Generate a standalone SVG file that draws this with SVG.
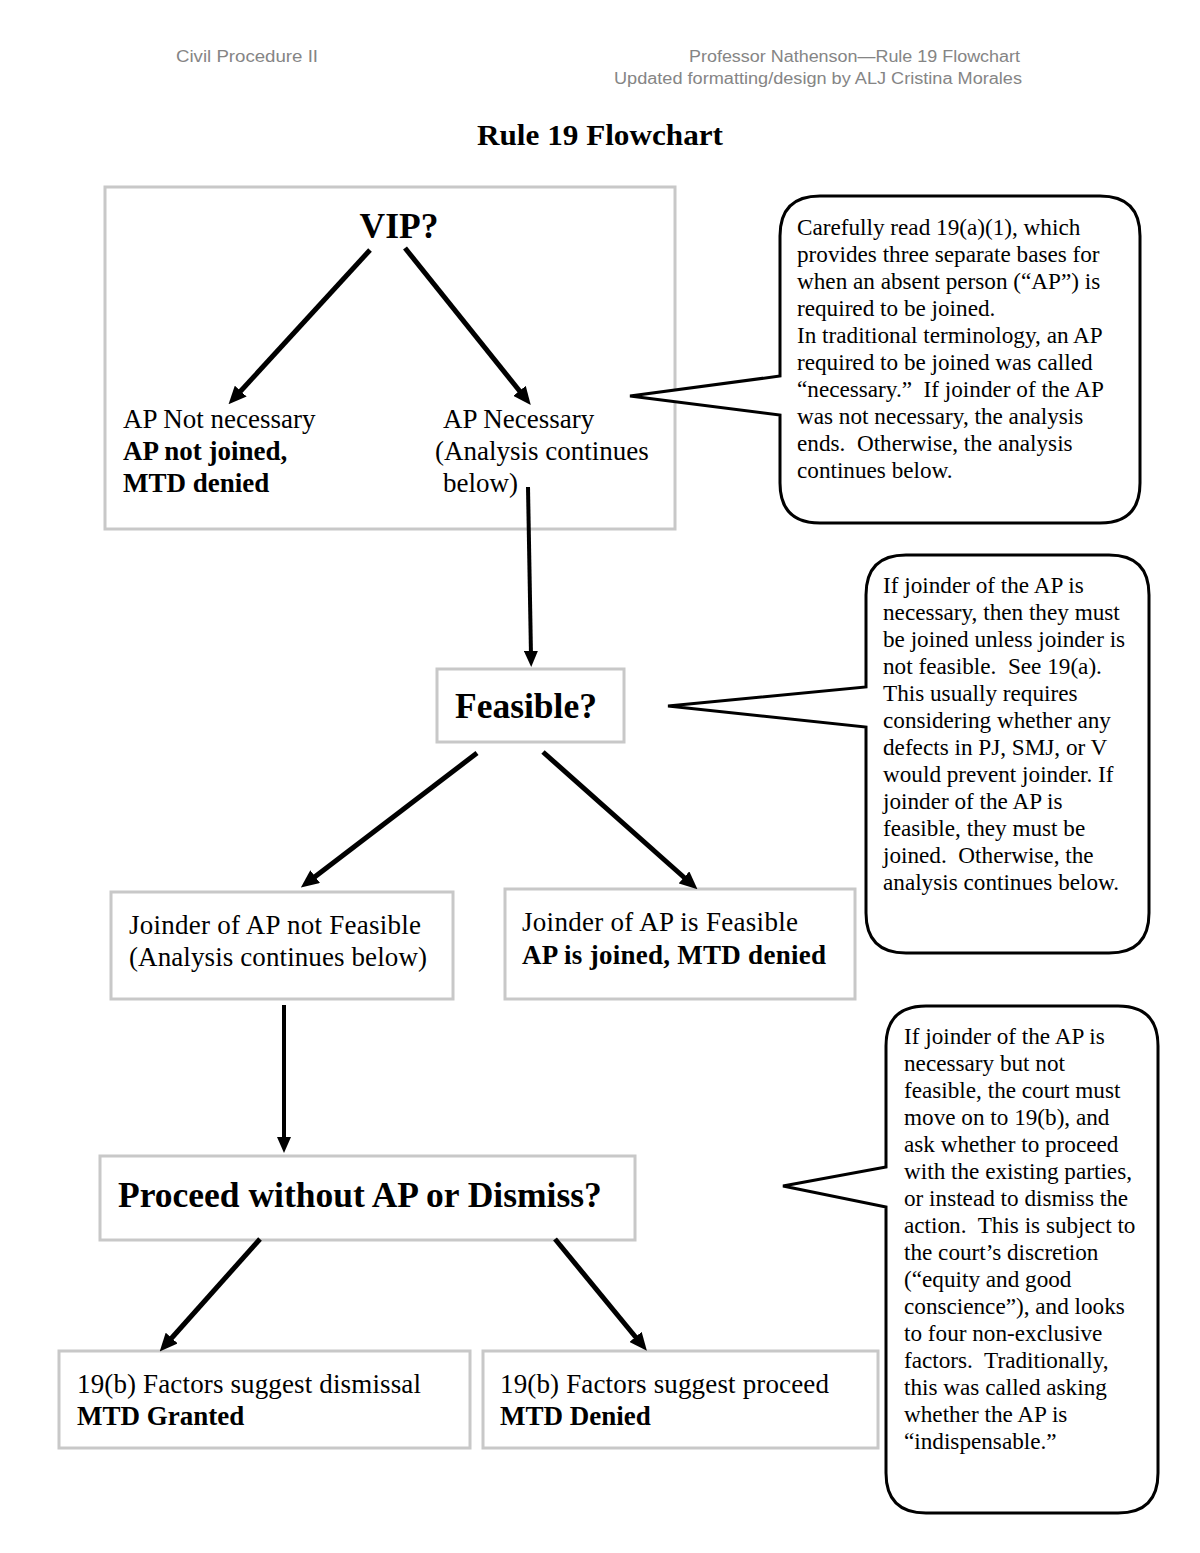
<svg xmlns="http://www.w3.org/2000/svg" width="1200" height="1553" viewBox="0 0 1200 1553">
<style>
text{white-space:pre}
.hdr{font-family:"Liberation Sans",Arial,sans-serif;font-size:16px;fill:#858585}
.title{font-family:"Liberation Serif","Times New Roman",serif;font-size:30px;font-weight:bold;fill:#000}
.q{font-family:"Liberation Serif","Times New Roman",serif;font-size:35.5px;font-weight:bold;fill:#000}
.t{font-family:"Liberation Serif","Times New Roman",serif;font-size:27px;fill:#000}
.b{font-weight:bold}
.c{font-family:"Liberation Serif","Times New Roman",serif;font-size:23.2px;fill:#000}
.box{fill:#fff;stroke:#c8c8c8;stroke-width:3}
.call{fill:#fff;stroke:#000;stroke-width:3;stroke-linejoin:miter}
.arr{stroke:#000;stroke-width:5;fill:none;marker-end:url(#ah)}
.arr2{stroke:#000;stroke-width:4;fill:none;marker-end:url(#ah2)}
</style>
<defs>
<marker id="ah" markerUnits="userSpaceOnUse" markerWidth="18" markerHeight="16" refX="4" refY="8" orient="auto">
<path d="M0,0 L18,8 L0,16 z" fill="#000"/>
</marker>
<marker id="ah2" markerUnits="userSpaceOnUse" markerWidth="16" markerHeight="14" refX="4" refY="7" orient="auto">
<path d="M0,0 L16,7 L0,14 z" fill="#000"/>
</marker>
</defs>
<rect width="1200" height="1553" fill="#fff"/>

<g id="header">
<text class="hdr" x="176" y="62" textLength="142" lengthAdjust="spacingAndGlyphs">Civil Procedure II</text>
<text class="hdr" x="689" y="62" textLength="331" lengthAdjust="spacingAndGlyphs">Professor Nathenson—Rule 19 Flowchart</text>
<text class="hdr" x="614" y="84" textLength="408" lengthAdjust="spacingAndGlyphs">Updated formatting/design by ALJ Cristina Morales</text>
<text class="title" x="600" y="145" text-anchor="middle" textLength="246" lengthAdjust="spacingAndGlyphs">Rule 19 Flowchart</text>
</g>

<g id="vip">
<rect class="box" x="105" y="187" width="570" height="342"/>
<text class="q" x="399" y="238" text-anchor="middle">VIP?</text>
<text class="t" x="123" y="428">AP Not necessary</text>
<text class="t b" x="123" y="460">AP not joined,</text>
<text class="t b" x="123" y="492">MTD denied</text>
<text class="t" x="443" y="428">AP Necessary</text>
<text class="t" x="435" y="460">(Analysis continues</text>
<text class="t" x="443" y="492">below)</text>
</g>

<g id="note1">
<path class="call" d="M820,196 H1100 Q1140,196 1140,236 V483 Q1140,523 1100,523 H820 Q780,523 780,483 V415 L630,396 L780,376 V236 Q780,196 820,196 Z"/>
<text class="c" x="797" y="235">Carefully read 19(a)(1), which</text>
<text class="c" x="797" y="262">provides three separate bases for</text>
<text class="c" x="797" y="289">when an absent person (“AP”) is</text>
<text class="c" x="797" y="316">required to be joined.</text>
<text class="c" x="797" y="343">In traditional terminology, an AP</text>
<text class="c" x="797" y="370">required to be joined was called</text>
<text class="c" x="797" y="397">“necessary.”  If joinder of the AP</text>
<text class="c" x="797" y="424">was not necessary, the analysis</text>
<text class="c" x="797" y="451">ends.  Otherwise, the analysis</text>
<text class="c" x="797" y="478">continues below.</text>
</g>

<g id="feasible">
<rect class="box" x="437" y="669" width="187" height="73"/>
<text class="q" x="526" y="718" text-anchor="middle">Feasible?</text>
</g>

<g id="note2">
<path class="call" d="M906,555 H1109 Q1149,555 1149,595 V913 Q1149,953 1109,953 H906 Q866,953 866,913 V727 L668,706 L866,687 V595 Q866,555 906,555 Z"/>
<text class="c" x="883" y="593">If joinder of the AP is</text>
<text class="c" x="883" y="620">necessary, then they must</text>
<text class="c" x="883" y="647">be joined unless joinder is</text>
<text class="c" x="883" y="674">not feasible.  See 19(a).</text>
<text class="c" x="883" y="701">This usually requires</text>
<text class="c" x="883" y="728">considering whether any</text>
<text class="c" x="883" y="755">defects in PJ, SMJ, or V</text>
<text class="c" x="883" y="782">would prevent joinder. If</text>
<text class="c" x="883" y="809">joinder of the AP is</text>
<text class="c" x="883" y="836">feasible, they must be</text>
<text class="c" x="883" y="863">joined.  Otherwise, the</text>
<text class="c" x="883" y="890">analysis continues below.</text>
</g>

<g id="notfeasible">
<rect class="box" x="111" y="892" width="342" height="107"/>
<text class="t" x="129" y="934" textLength="292" lengthAdjust="spacing">Joinder of AP not Feasible</text>
<text class="t" x="129" y="966" textLength="298" lengthAdjust="spacing">(Analysis continues below)</text>
</g>

<g id="isfeasible">
<rect class="box" x="505" y="889" width="350" height="110"/>
<text class="t" x="522" y="931" textLength="276" lengthAdjust="spacing">Joinder of AP is Feasible</text>
<text class="t b" x="522" y="964" textLength="304" lengthAdjust="spacing">AP is joined, MTD denied</text>
</g>

<g id="proceed">
<rect class="box" x="100" y="1156" width="535" height="84"/>
<text class="q" x="118" y="1207">Proceed without AP or Dismiss?</text>
</g>

<g id="note3">
<path class="call" d="M926,1006 H1118 Q1158,1006 1158,1046 V1473 Q1158,1513 1118,1513 H926 Q886,1513 886,1473 V1207 L783,1186 L886,1167 V1046 Q886,1006 926,1006 Z"/>
<text class="c" x="904" y="1044">If joinder of the AP is</text>
<text class="c" x="904" y="1071">necessary but not</text>
<text class="c" x="904" y="1098">feasible, the court must</text>
<text class="c" x="904" y="1125">move on to 19(b), and</text>
<text class="c" x="904" y="1152">ask whether to proceed</text>
<text class="c" x="904" y="1179">with the existing parties,</text>
<text class="c" x="904" y="1206">or instead to dismiss the</text>
<text class="c" x="904" y="1233">action.  This is subject to</text>
<text class="c" x="904" y="1260">the court’s discretion</text>
<text class="c" x="904" y="1287">(“equity and good</text>
<text class="c" x="904" y="1314">conscience”), and looks</text>
<text class="c" x="904" y="1341">to four non-exclusive</text>
<text class="c" x="904" y="1368">factors.  Traditionally,</text>
<text class="c" x="904" y="1395">this was called asking</text>
<text class="c" x="904" y="1422">whether the AP is</text>
<text class="c" x="904" y="1449">“indispensable.”</text>
</g>

<g id="dismissal">
<rect class="box" x="59" y="1351" width="411" height="97"/>
<text class="t" x="77" y="1393" textLength="344" lengthAdjust="spacing">19(b) Factors suggest dismissal</text>
<text class="t b" x="77" y="1425">MTD Granted</text>
</g>

<g id="proceedres">
<rect class="box" x="483" y="1351" width="395" height="97"/>
<text class="t" x="500" y="1393" textLength="329" lengthAdjust="spacing">19(b) Factors suggest proceed</text>
<text class="t b" x="500" y="1425">MTD Denied</text>
</g>

<g id="connectors">
<line class="arr" x1="370" y1="250" x2="238" y2="394"/>
<line class="arr" x1="405" y1="248" x2="522" y2="394"/>
<line class="arr2" x1="528" y1="487" x2="531" y2="655"/>
<line class="arr" x1="477" y1="753" x2="312" y2="879"/>
<line class="arr" x1="543" y1="752" x2="687" y2="880"/>
<line class="arr2" x1="284" y1="1005" x2="284" y2="1141"/>
<line class="arr" x1="260" y1="1239" x2="169" y2="1341"/>
<line class="arr" x1="555" y1="1239" x2="638" y2="1340"/>
</g>
</svg>
